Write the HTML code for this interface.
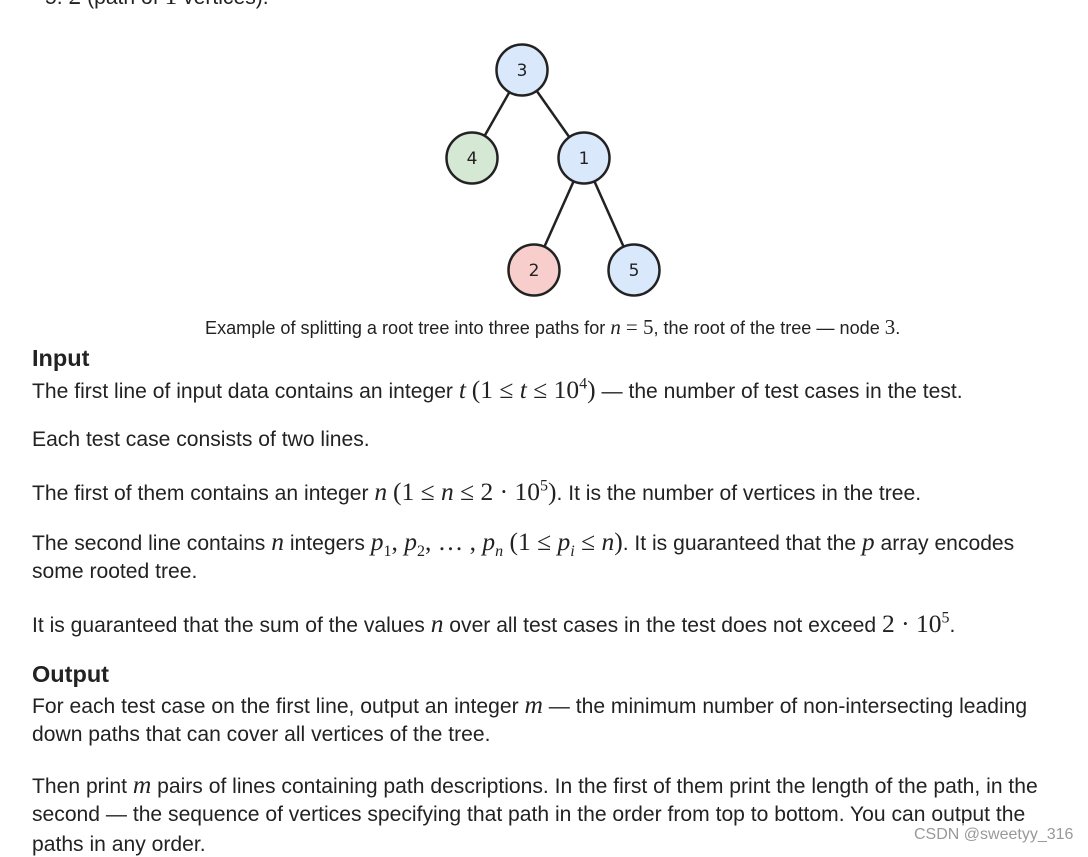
<!DOCTYPE html>
<html><head><meta charset="utf-8"><style>
body{margin:0;width:1088px;height:852px;overflow:hidden;background:#fff;position:relative;font-family:"Liberation Sans",Arial,sans-serif;color:#222;}
.l{position:absolute;left:32px;font-size:21.1px;white-space:nowrap;line-height:24px;}
.m{font-family:"Liberation Serif","DejaVu Serif",serif;font-size:25.5px;}
.i{font-style:italic;}
sup{font-size:16px;line-height:0;}
sub{font-size:16px;line-height:0;}
h{font-weight:bold;font-size:23.5px;}
</style></head><body>
<div class="l" style="left:45px;top:-16px">5. <span class="m">2</span> (path of <span class="m">1</span> vertices).</div>
<svg style="position:absolute;left:0;top:0" width="1088" height="320">
<g stroke="#222" stroke-width="2.5">
<line x1="522" y1="70" x2="472" y2="158"/><line x1="522" y1="70" x2="584" y2="158"/>
<line x1="584" y1="158" x2="534" y2="270"/><line x1="584" y1="158" x2="634" y2="270"/>
</g>
<g stroke="#222" stroke-width="2.5">
<circle cx="522" cy="70" r="25.5" fill="#dae8fc"/>
<circle cx="472" cy="158" r="25.5" fill="#d5e8d4"/>
<circle cx="584" cy="158" r="25.5" fill="#dae8fc"/>
<circle cx="534" cy="270" r="25.5" fill="#f8cecc"/>
<circle cx="634" cy="270" r="25.5" fill="#dae8fc"/>
</g>
<g font-family="DejaVu Sans,sans-serif" font-size="17" text-anchor="middle" fill="#222">
<text x="522" y="76">3</text><text x="472" y="164">4</text><text x="584" y="164">1</text><text x="534" y="276">2</text><text x="634" y="276">5</text>
</g>
</svg>
<div class="l" style="left:205px;top:315px;font-size:18.1px">Example of splitting a root tree into three paths for <span class="m i" style="font-size:21px">n</span> <span class="m" style="font-size:21px">= 5</span>, the root of the tree — node <span class="m" style="font-size:21px">3</span>.</div>
<div class="l" style="top:346px"><h>Input</h></div>
<div class="l" style="top:378px">The first line of input data contains an integer <span class="m i">t</span> <span class="m">(1 ≤ <i>t</i> ≤ 10<sup>4</sup>)</span> — the number of test cases in the test.</div>
<div class="l" style="top:428px">Each test case consists of two lines.</div>
<div class="l" style="top:480px">The first of them contains an integer <span class="m i">n</span> <span class="m">(1 ≤ <i>n</i> ≤ 2 · 10<sup>5</sup>)</span>. It is the number of vertices in the tree.</div>
<div class="l" style="top:530px">The second line contains <span class="m i">n</span> integers <span class="m"><i>p</i><sub>1</sub>, <i>p</i><sub>2</sub>, … , <i>p<sub>n</sub></i> (1 ≤ <i>p<sub>i</sub></i> ≤ <i>n</i>)</span>. It is guaranteed that the <span class="m i">p</span> array encodes</div>
<div class="l" style="top:560px">some rooted tree.</div>
<div class="l" style="top:612px">It is guaranteed that the sum of the values <span class="m i">n</span> over all test cases in the test does not exceed <span class="m">2 · 10<sup>5</sup></span>.</div>
<div class="l" style="top:662px"><h>Output</h></div>
<div class="l" style="top:693px">For each test case on the first line, output an integer <span class="m i">m</span> — the minimum number of non-intersecting leading</div>
<div class="l" style="top:723px">down paths that can cover all vertices of the tree.</div>
<div class="l" style="top:773px">Then print <span class="m i">m</span> pairs of lines containing path descriptions. In the first of them print the length of the path, in the</div>
<div class="l" style="top:803px">second — the sequence of vertices specifying that path in the order from top to bottom. You can output the</div>
<div class="l" style="top:833px">paths in any order.</div>
<div class="l" style="left:914px;top:823px;font-size:16px;color:#999;background:rgba(255,255,255,0.6)">CSDN @sweetyy_316</div>
</body></html>
